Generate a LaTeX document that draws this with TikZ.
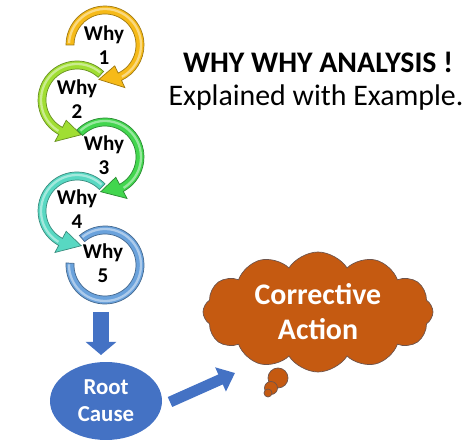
\documentclass[tikz,border=0pt]{standalone}
\usepackage{fontspec}
\setmainfont{Carlito}
\usetikzlibrary{arrows.meta, positioning, shapes.geometric, shapes.symbols, calc}
\definecolor{whyOne}{RGB}{246,186,24}
\definecolor{whyTwo}{RGB}{160,222,50}
\definecolor{whyThree}{RGB}{66,214,78}
\definecolor{whyFour}{RGB}{88,216,194}
\definecolor{whyFive}{RGB}{106,162,220}
\definecolor{rootBlue}{RGB}{68,114,196}
\definecolor{actOrange}{RGB}{197,90,17}
\definecolor{cloudEdge}{RGB}{110,84,76}

\tikzset{
  whyband/.style={draw=#1!65!black, line width=0.4pt, fill=#1},
  gloss/.style={draw=white, opacity=0.45, line width=1.3pt},
  whytext/.style={font=\fontsize{12}{13.5}\selectfont\bfseries, align=center},
  rootnode/.style={ellipse, fill=rootBlue, text=white, align=center,
    minimum width=2.24cm, minimum height=1.56cm, inner sep=0pt,
    font=\fontsize{13}{15.5}\selectfont\bfseries},
  actnode/.style={cloud, cloud puffs=12, cloud puff arc=115, aspect=1.9,
    fill=actOrange, draw=cloudEdge, line width=0.4pt, text=white, align=center,
    minimum width=4.6cm, minimum height=2.4cm, inner sep=0pt,
    font=\fontsize{17}{20}\selectfont\bfseries},
  bubble/.style={fill=actOrange, draw=cloudEdge, line width=0.4pt},
}

\begin{document}
\begin{tikzpicture}[x=0.02cm, y=-0.02cm]
\useasboundingbox (0,0) rectangle (474,445);
% ring centres
\coordinate (c1) at (105,45);
\coordinate (c2) at (77,100);
\coordinate (c3) at (105,157);
\coordinate (c4) at (77,211);
\coordinate (c5) at (105,265);
% why 1
\filldraw[whyband=whyOne] ($(c1)+(180:39)$) arc[start angle=180, end angle=425, radius=39]
  -- ($(c1)+(425:47)$) -- ($(c1)+(460:35)$) -- ($(c1)+(425:23)$) -- ($(c1)+(425:31)$)
  arc[start angle=425, end angle=180, radius=31] -- cycle;
\draw[gloss] ($(c1)+(183:36)$) arc[start angle=183, end angle=422, radius=36];
% why 2
\filldraw[whyband=whyTwo] ($(c2)+(313:39)$) arc[start angle=313, end angle=118, radius=39]
  -- ($(c2)+(118:47)$) -- ($(c2)+(83:35)$) -- ($(c2)+(118:23)$) -- ($(c2)+(118:31)$)
  arc[start angle=118, end angle=313, radius=31] -- cycle;
\draw[gloss] ($(c2)+(310:36)$) arc[start angle=310, end angle=121, radius=36];
% why 3
\filldraw[whyband=whyThree] ($(c3)+(224:39)$) arc[start angle=224, end angle=422, radius=39]
  -- ($(c3)+(422:47)$) -- ($(c3)+(457:35)$) -- ($(c3)+(422:23)$) -- ($(c3)+(422:31)$)
  arc[start angle=422, end angle=224, radius=31] -- cycle;
\draw[gloss] ($(c3)+(227:36)$) arc[start angle=227, end angle=419, radius=36];
% why 4
\filldraw[whyband=whyFour] ($(c4)+(316:39)$) arc[start angle=316, end angle=118, radius=39]
  -- ($(c4)+(118:47)$) -- ($(c4)+(83:35)$) -- ($(c4)+(118:23)$) -- ($(c4)+(118:31)$)
  arc[start angle=118, end angle=316, radius=31] -- cycle;
\draw[gloss] ($(c4)+(313:36)$) arc[start angle=313, end angle=121, radius=36];
% why 5, no head
\filldraw[whyband=whyFive] ($(c5)+(229:39)$) arc[start angle=229, end angle=543, radius=39]
  -- ($(c5)+(543:31)$) arc[start angle=543, end angle=229, radius=31] -- cycle;
\draw[gloss] ($(c5)+(231:36)$) arc[start angle=231, end angle=541, radius=36];
% labels
\node[whytext] (why1) at (104,45) {Why\\1};
\node[whytext] (why2) at (77,99) {Why\\2};
\node[whytext] (why3) at (104,155) {Why\\3};
\node[whytext] (why4) at (77,209) {Why\\4};
\node[whytext] (why5) at (103,263) {Why\\5};
% title
\node[font=\fontsize{17}{20}\selectfont\bfseries] (title) at (318,62) {WHY WHY ANALYSIS !};
\node[font=\fontsize{17}{20}\selectfont] (subtitle) at (316,98) {Explained with Example.};
% root cause and action
\node[rootnode] (root) at (106,401) {Root\\Cause};
\node[actnode] (action) at (318,312) {Corrective\\Action};
\filldraw[bubble] (278,378) circle[radius=10];
\filldraw[bubble] (271,388) circle[radius=6.5];
\filldraw[bubble] (268,393) circle[radius=4];
% block arrows
\coordinate (dtop) at (101,312);
\coordinate (dtip) at (101,355);
\draw[rootBlue, line width=9pt, -{Triangle[length=7.4pt, width=17pt]}] (dtop) -- (dtip);
\coordinate (rtail) at (170,402);
\coordinate (atip) at (235,373);
\draw[rootBlue, line width=6.2pt, -{Triangle[length=9pt, width=14.5pt]}] (rtail) -- (atip);
\end{tikzpicture}
\end{document}
